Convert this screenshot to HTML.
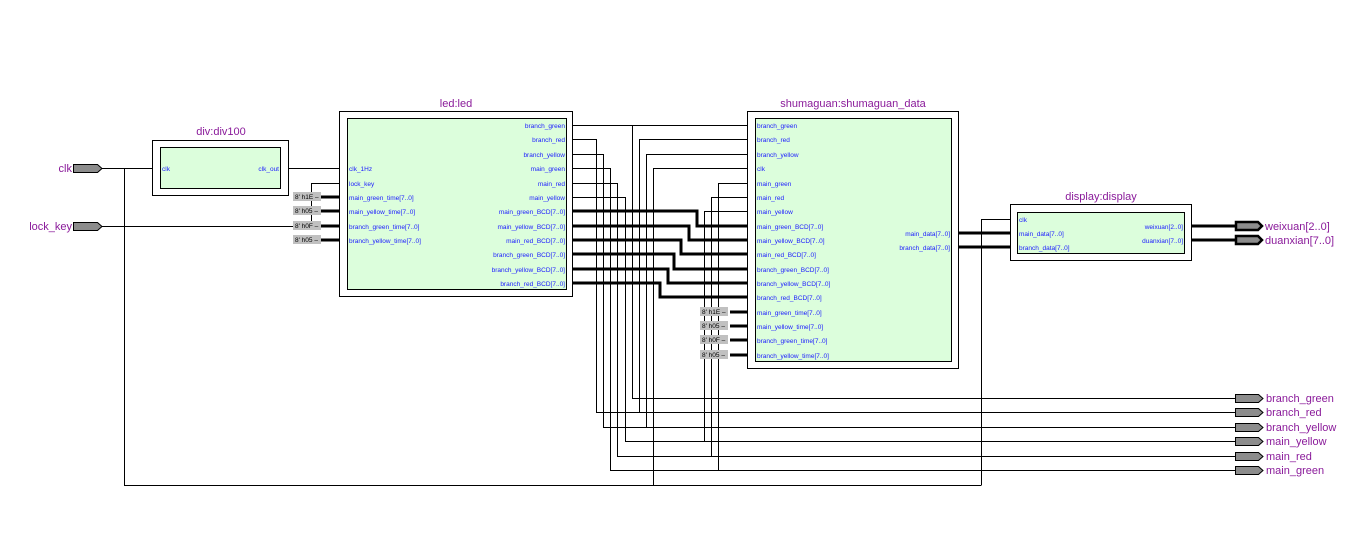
<!DOCTYPE html>
<html><head><meta charset="utf-8"><style>
html,body{margin:0;padding:0;background:#fff;}
svg{display:block;}
.p{font-family:"Liberation Sans",sans-serif;font-size:6.5px;fill:#1a1aff;}
.t{font-family:"Liberation Sans",sans-serif;font-size:11px;fill:#8a1a9a;}
.n{font-family:"Liberation Sans",sans-serif;font-size:11px;fill:#8a1a9a;}
.c{font-family:"Liberation Sans",sans-serif;font-size:6.5px;fill:#000;}
</style></head><body>
<svg width="1371" height="548" viewBox="0 0 1371 548" xmlns="http://www.w3.org/2000/svg">
<g stroke="#000" stroke-width="1" fill="none" shape-rendering="crispEdges">
<!-- clk -->
<path d="M102 168.5H152 M124.5 168.5V485.5H981.5 M289 168.5H340"/>
<!-- lock_key -->
<path d="M102 226.5H311.5V183.5H340"/>
<!-- display clk -->
<path d="M981.5 485V219.5H1010 M653.5 485V168.5H747"/>
<!-- led single outputs -->
<path d="M573 125.5H747 M632.5 125.5V398.5H1235"/>
<path d="M573 139.5H596.5V412.5H1235 M639.5 412V139.5H747"/>
<path d="M573 154.5H603.5V427.5H1235 M646.5 427V154.5H747"/>
<path d="M573 168.5H610.5V470.5H1235 M718.5 470V183.5H747"/>
<path d="M573 183.5H617.5V456.5H1235 M711.5 456V197.5H747"/>
<path d="M573 197.5H625.5V441.5H1235 M704.5 441V211.5H747"/>
</g>
<g stroke="#000" stroke-width="3" fill="none">
<path d="M321 197H340 M321 211H340 M321 226H340 M321 240H340"/>
<path d="M573 211H697V226H747"/>
<path d="M573 226H689V240H747"/>
<path d="M573 240H681V254H747"/>
<path d="M573 254H674V269H747"/>
<path d="M573 269H668V283H747"/>
<path d="M573 283H660V297H747"/>
<path d="M730 312H747 M730 326H747 M730 340H747 M730 355H747"/>
<path d="M952 233H1010 M952 247H1010"/>
<path d="M1185 226H1235 M1185 240H1235"/>
</g>
<!-- div box -->
<rect x="152.5" y="140.5" width="136" height="55" fill="#fff" stroke="#000"/>
<rect x="160.5" y="147.5" width="120" height="41" fill="#dcfedc" stroke="#000"/>
<text class="t" x="221" y="135" text-anchor="middle">div:div100</text>
<text class="p" x="162" y="171">clk</text>
<text class="p" x="279" y="171" text-anchor="end">clk_out</text>
<!-- led box -->
<rect x="339.5" y="111.5" width="233" height="185" fill="#fff" stroke="#000"/>
<rect x="347.5" y="118.5" width="219" height="171" fill="#dcfedc" stroke="#000"/>
<text class="t" x="456" y="107" text-anchor="middle">led:led</text>
<g class="p">
<text x="349" y="171">clk_1Hz</text>
<text x="349" y="186">lock_key</text>
<text x="349" y="200">main_green_time[7..0]</text>
<text x="349" y="214">main_yellow_time[7..0]</text>
<text x="349" y="229">branch_green_time[7..0]</text>
<text x="349" y="243">branch_yellow_time[7..0]</text>
</g>
<g class="p" text-anchor="end">
<text x="565" y="128">branch_green</text>
<text x="565" y="142">branch_red</text>
<text x="565" y="157">branch_yellow</text>
<text x="565" y="171">main_green</text>
<text x="565" y="186">main_red</text>
<text x="565" y="200">main_yellow</text>
<text x="565" y="214">main_green_BCD[7..0]</text>
<text x="565" y="229">main_yellow_BCD[7..0]</text>
<text x="565" y="243">main_red_BCD[7..0]</text>
<text x="565" y="257">branch_green_BCD[7..0]</text>
<text x="565" y="272">branch_yellow_BCD[7..0]</text>
<text x="565" y="286">branch_red_BCD[7..0]</text>
</g>
<!-- shumaguan box -->
<rect x="747.5" y="111.5" width="211" height="257" fill="#fff" stroke="#000"/>
<rect x="755.5" y="118.5" width="196" height="243" fill="#dcfedc" stroke="#000"/>
<text class="t" x="853" y="107" text-anchor="middle">shumaguan:shumaguan_data</text>
<g class="p">
<text x="757" y="128">branch_green</text>
<text x="757" y="142">branch_red</text>
<text x="757" y="157">branch_yellow</text>
<text x="757" y="171">clk</text>
<text x="757" y="186">main_green</text>
<text x="757" y="200">main_red</text>
<text x="757" y="214">main_yellow</text>
<text x="757" y="229">main_green_BCD[7..0]</text>
<text x="757" y="243">main_yellow_BCD[7..0]</text>
<text x="757" y="257">main_red_BCD[7..0]</text>
<text x="757" y="272">branch_green_BCD[7..0]</text>
<text x="757" y="286">branch_yellow_BCD[7..0]</text>
<text x="757" y="300">branch_red_BCD[7..0]</text>
<text x="757" y="315">main_green_time[7..0]</text>
<text x="757" y="329">main_yellow_time[7..0]</text>
<text x="757" y="343">branch_green_time[7..0]</text>
<text x="757" y="358">branch_yellow_time[7..0]</text>
</g>
<g class="p" text-anchor="end">
<text x="950" y="236">main_data[7..0]</text>
<text x="950" y="250">branch_data[7..0]</text>
</g>
<!-- display box -->
<rect x="1010.5" y="204.5" width="181" height="56" fill="#fff" stroke="#000"/>
<rect x="1017.5" y="212.5" width="167" height="41" fill="#dcfedc" stroke="#000"/>
<text class="t" x="1101" y="200" text-anchor="middle">display:display</text>
<g class="p">
<text x="1019" y="222">clk</text>
<text x="1019" y="236">main_data[7..0]</text>
<text x="1019" y="250">branch_data[7..0]</text>
</g>
<g class="p" text-anchor="end">
<text x="1183" y="229">weixuan[2..0]</text>
<text x="1183" y="243">duanxian[7..0]</text>
</g>
<!-- constants -->
<g fill="#c0c0c0">
<rect x="293" y="192" width="28" height="9"/>
<rect x="293" y="206" width="28" height="9"/>
<rect x="293" y="221" width="28" height="9"/>
<rect x="293" y="235" width="28" height="9"/>
<rect x="700" y="307" width="28" height="9"/>
<rect x="700" y="321" width="28" height="9"/>
<rect x="700" y="335" width="28" height="9"/>
<rect x="700" y="350" width="28" height="9"/>
</g>
<g class="c">
<text x="295" y="199">8' h1E –</text>
<text x="295" y="213">8' h05 –</text>
<text x="295" y="228">8' h0F –</text>
<text x="295" y="242">8' h05 –</text>
<text x="702" y="314">8' h1E –</text>
<text x="702" y="328">8' h05 –</text>
<text x="702" y="342">8' h0F –</text>
<text x="702" y="357">8' h05 –</text>
</g>
<!-- input pins -->
<g fill="#8c8c8c" stroke="#000" stroke-width="1">
<path d="M73.5 164.5H97.5L102 168.5L97.5 172.5H73.5Z"/>
<path d="M73.5 222.5H97.5L102 226.5L97.5 230.5H73.5Z"/>
<path d="M1235.5 394.5H1258.5L1263 398.5L1258.5 402.5H1235.5Z"/>
<path d="M1235.5 408.5H1258.5L1263 412.5L1258.5 416.5H1235.5Z"/>
<path d="M1235.5 423.5H1258.5L1263 427.5L1258.5 431.5H1235.5Z"/>
<path d="M1235.5 437.5H1258.5L1263 441.5L1258.5 445.5H1235.5Z"/>
<path d="M1235.5 452.5H1258.5L1263 456.5L1258.5 460.5H1235.5Z"/>
<path d="M1235.5 466.5H1258.5L1263 470.5L1258.5 474.5H1235.5Z"/>
</g>
<g fill="#8c8c8c" stroke="#000" stroke-width="2.5">
<path d="M1236 222H1258L1262 226L1258 230H1236Z"/>
<path d="M1236 236H1258L1262 240L1258 244H1236Z"/>
</g>
<g class="n">
<text x="72" y="172" text-anchor="end">clk</text>
<text x="72" y="230" text-anchor="end">lock_key</text>
<text x="1265" y="230">weixuan[2..0]</text>
<text x="1265" y="244">duanxian[7..0]</text>
<text x="1266" y="402">branch_green</text>
<text x="1266" y="416">branch_red</text>
<text x="1266" y="431">branch_yellow</text>
<text x="1266" y="445">main_yellow</text>
<text x="1266" y="460">main_red</text>
<text x="1266" y="474">main_green</text>
</g>
</svg>
</body></html>
